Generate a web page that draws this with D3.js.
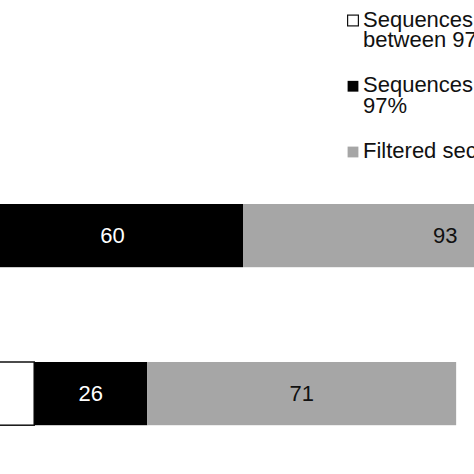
<!DOCTYPE html>
<html>
<head>
<meta charset="utf-8">
<script src="https://cdn.jsdelivr.net/npm/d3@7"></script>
<style>
  html, body { margin: 0; padding: 0; background: #fff; }
  svg { display: block; font-family: "Liberation Sans", Arial, sans-serif; }
</style>
</head>
<body>
<div id="viz"></div>
<script>
  // data
  var categories = ['Sample 1', 'Sample 2'];
  var seriesNames = ['Sequences between 97', 'Sequences 97%', 'Filtered sequences'];
  var betweenValues = [10, 22];
  var aboveValues = [60, 26];
  var filteredValues = [93, 71];
  var legendLines = [
    ['Sequences', 'between 97'],
    ['Sequences', '97%'],
    ['Filtered sec']
  ];

  var fills = ['#ffffff', '#000000', '#a6a6a6'];
  var labelColors = ['#000', '#fff', '#111'];

  var width = 474, height = 474;

  var svg = d3.select('#viz')
    .append('svg')
    .attr('width', width)
    .attr('height', height);

  var x = d3.scaleLinear()
    .domain([0, 100])
    .range([-61.5, 373.5]);

  var y = d3.scaleBand()
    .domain(categories)
    .range([156.6, 472.6])
    .paddingInner(0.6)
    .paddingOuter(0.3);

  var rows = categories.map(function (c, i) {
    return { cat: c, between: betweenValues[i], above: aboveValues[i], filtered: filteredValues[i] };
  });

  var stack = d3.stack().keys(['between', 'above', 'filtered']);
  var layers = stack(rows);

  var g = svg.selectAll('g.layer')
    .data(layers)
    .enter()
    .append('g')
    .attr('class', 'layer');

  g.selectAll('rect')
    .data(function (d) { return d; })
    .enter()
    .append('rect')
    .attr('x', function (d) { return x(d[0]); })
    .attr('y', function (d) { return y(d.data.cat); })
    .attr('width', function (d) { return x(d[1]) - x(d[0]); })
    .attr('height', y.bandwidth())
    .style('fill', function (d, i, n) { return fills[layers.indexOf(d3.select(n[i].parentNode).datum())]; })
    .style('stroke', function (d, i, n) {
      return layers.indexOf(d3.select(n[i].parentNode).datum()) === 0 ? '#111' : 'none';
    })
    .style('stroke-width', 1.5);

  // value labels (the white segment's labels fall left of the visible area)
  g.filter(function (d) { return d.key !== 'between'; })
    .selectAll('text')
    .data(function (d) { return d; })
    .enter()
    .append('text')
    .attr('x', function (d) { return x((d[0] + d[1]) / 2); })
    .attr('y', function (d) { return y(d.data.cat) + y.bandwidth() / 2; })
    .attr('dy', '0.35em')
    .attr('text-anchor', 'middle')
    .style('font-size', '22px')
    .style('fill', function (d, i, n) { return labelColors[layers.indexOf(d3.select(n[i].parentNode).datum())]; })
    .text(function (d) { return d[1] - d[0]; });

  // legend
  var legend = svg.append('g').attr('class', 'legend');
  var item = legend.selectAll('g')
    .data(seriesNames)
    .enter()
    .append('g')
    .attr('transform', function (d, i) { return 'translate(347,' + (26.5 + i * 65.75) + ')'; });

  item.append('rect')
    .attr('x', 0.6)
    .attr('y', -11.4)
    .attr('width', 10.8)
    .attr('height', 10.8)
    .style('fill', function (d, i) { return fills[i]; })
    .style('stroke', function (d, i) { return i === 0 ? '#111' : 'none'; })
    .style('stroke-width', 1.2);

  item.append('text')
    .style('font-size', '22px')
    .style('fill', '#111')
    .selectAll('tspan')
    .data(function (d, i) { return legendLines[i]; })
    .enter()
    .append('tspan')
    .attr('x', 16)
    .attr('dy', function (d, i) { return i === 0 ? 0 : 20.5; })
    .text(function (d) { return d; });
</script>
</body>
</html>
